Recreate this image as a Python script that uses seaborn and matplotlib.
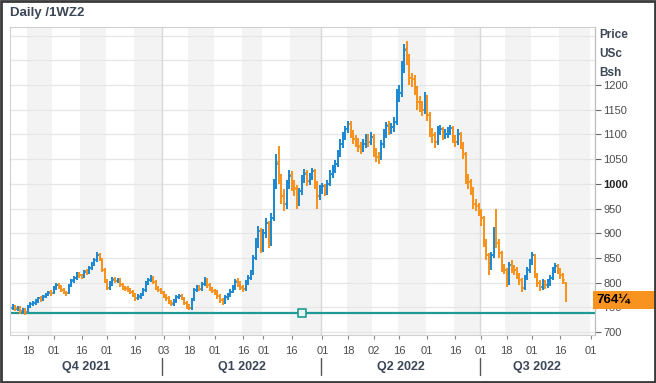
import numpy as np
import pandas as pd
import matplotlib
matplotlib.use("Agg")
import matplotlib.pyplot as plt
import matplotlib.transforms as mtrans
from matplotlib.patches import Rectangle
import seaborn as sns

# ---------------- data ----------------
start_date = "2021-10-08"
calendar_end = "2022-09-02"
holidays = ["2021-11-25", "2021-12-24", "2022-01-17", "2022-02-21", "2022-04-15",
            "2022-05-30", "2022-06-20", "2022-07-04"]

opens = [748, 752, 747, 750, 742, 746, 741, 752, 755, 758, 762, 768, 765, 771, 775, 781, 779, 790, 796, 792,
         786, 781, 778, 795, 804, 810, 818, 815, 812, 823, 820, 830, 838, 845, 856, 848, 826, 805, 790, 798,
         807, 804, 806, 797, 790, 789, 785, 782, 776, 768, 771, 775, 785, 800, 806, 811, 802, 790, 786, 781,
         772, 769, 760, 757, 762, 770, 773, 768, 759, 752, 748, 765, 785, 791, 788, 798, 806, 795, 788, 784,
         781, 772, 765, 760, 770, 775, 782, 790, 803, 798, 791, 788, 800, 810, 820, 850, 880, 905, 870, 900,
         920, 880, 930, 1000, 1045, 1010, 975, 960, 1000, 1018, 1000, 992, 965, 985, 1010, 1022, 1005, 1015, 1025, 1000,
         975, 990, 996, 985, 1000, 1020, 1030, 1040, 1060, 1080, 1095, 1110, 1122, 1100, 1090, 1085, 1076, 1072, 1080, 1092,
         1085, 1095, 1065, 1055, 1052, 1080, 1100, 1120, 1108, 1115, 1125, 1180, 1184, 1235, 1272, 1255, 1215, 1212, 1190, 1165,
         1158, 1150, 1175, 1140, 1105, 1098, 1085, 1108, 1110, 1098, 1100, 1105, 1112, 1090, 1085, 1100, 1080, 1060, 1010, 1004,
         990, 960, 955, 945, 930, 880, 855, 830, 855, 940, 880, 860, 830, 826, 800, 835, 830, 826, 815, 805,
         790, 810, 825, 840, 855, 815, 800, 792, 800, 796, 800, 810, 825, 833, 826, 815, 800]

highs = [756, 755, 753, 752, 749, 748, 755, 760, 762, 766, 771, 772, 775, 779, 784, 785, 794, 799, 799, 795,
         789, 784, 798, 808, 814, 822, 822, 818, 826, 828, 834, 842, 850, 862, 860, 850, 829, 808, 803, 811,
         812, 810, 809, 800, 794, 793, 789, 785, 779, 776, 779, 789, 804, 810, 815, 814, 805, 794, 790, 784,
         776, 772, 764, 766, 774, 777, 777, 771, 762, 756, 768, 789, 795, 796, 802, 812, 809, 799, 792, 788,
         785, 776, 769, 774, 780, 787, 795, 808, 810, 803, 796, 805, 815, 826, 856, 890, 915, 910, 908, 930,
         925, 940, 1010, 1060, 1076, 1020, 990, 1008, 1028, 1025, 1008, 998, 992, 1018, 1030, 1028, 1022, 1032, 1030, 1005,
         998, 1002, 1000, 1008, 1028, 1038, 1048, 1068, 1090, 1105, 1118, 1128, 1128, 1108, 1098, 1092, 1085, 1090, 1100, 1100,
         1105, 1100, 1072, 1065, 1088, 1110, 1126, 1128, 1124, 1135, 1192, 1200, 1248, 1284, 1290, 1262, 1225, 1220, 1198, 1178,
         1168, 1185, 1180, 1145, 1112, 1105, 1118, 1120, 1115, 1110, 1114, 1120, 1118, 1098, 1110, 1105, 1085, 1064, 1020, 1010,
         994, 970, 962, 950, 935, 888, 860, 862, 912, 950, 888, 865, 838, 830, 842, 845, 836, 832, 820, 810,
         815, 832, 848, 862, 858, 820, 806, 808, 806, 808, 815, 832, 840, 838, 830, 820, 802]

lows = [744, 743, 742, 737, 739, 734, 738, 749, 752, 755, 759, 761, 762, 768, 772, 773, 776, 786, 787, 782,
        776, 773, 776, 792, 800, 806, 810, 807, 809, 815, 817, 826, 834, 842, 844, 822, 800, 786, 786, 794,
        799, 799, 792, 786, 783, 781, 777, 771, 763, 764, 767, 772, 782, 796, 802, 798, 786, 782, 776, 768,
        763, 756, 753, 753, 759, 766, 764, 754, 747, 744, 745, 762, 781, 783, 784, 794, 790, 783, 779, 775,
        767, 758, 754, 756, 765, 771, 778, 786, 792, 785, 782, 784, 796, 805, 815, 845, 870, 860, 862, 890,
        870, 875, 925, 990, 1000, 960, 945, 950, 990, 985, 975, 950, 955, 978, 1002, 995, 998, 1008, 990, 950,
        968, 980, 975, 978, 995, 1012, 1022, 1035, 1055, 1072, 1088, 1102, 1092, 1080, 1075, 1065, 1060, 1065, 1072, 1075,
        1078, 1055, 1045, 1040, 1048, 1072, 1092, 1098, 1100, 1105, 1120, 1165, 1175, 1225, 1240, 1200, 1195, 1180, 1150, 1145,
        1138, 1142, 1128, 1095, 1082, 1072, 1078, 1098, 1088, 1090, 1092, 1098, 1082, 1075, 1078, 1070, 1050, 1000, 990, 978,
        950, 945, 935, 915, 872, 845, 815, 825, 850, 870, 850, 822, 818, 792, 796, 820, 815, 808, 796, 782,
        786, 805, 820, 835, 810, 792, 784, 786, 788, 790, 794, 805, 820, 818, 808, 798, 760]

closes = [752, 748, 750, 742, 745, 740, 752, 756, 758, 762, 768, 765, 772, 775, 780, 778, 790, 795, 792, 786,
          780, 778, 795, 805, 810, 818, 815, 812, 822, 820, 830, 838, 845, 855, 848, 826, 805, 790, 798, 806,
          804, 806, 796, 790, 788, 785, 782, 775, 768, 772, 775, 785, 800, 806, 810, 802, 790, 786, 780, 772,
          768, 760, 758, 762, 770, 772, 768, 758, 752, 748, 765, 785, 790, 788, 798, 805, 795, 788, 784, 780,
          772, 765, 760, 770, 775, 782, 790, 802, 798, 790, 788, 800, 810, 820, 850, 880, 905, 870, 900, 920,
          880, 930, 1000, 1040, 1010, 975, 960, 1000, 1015, 1000, 990, 965, 985, 1010, 1020, 1005, 1015, 1025, 1000, 975,
          990, 995, 985, 1000, 1020, 1030, 1040, 1060, 1080, 1095, 1110, 1120, 1100, 1090, 1085, 1075, 1072, 1080, 1090, 1085,
          1095, 1065, 1055, 1052, 1080, 1100, 1118, 1108, 1115, 1125, 1180, 1184, 1235, 1270, 1255, 1215, 1212, 1190, 1165, 1158,
          1150, 1175, 1140, 1105, 1098, 1085, 1108, 1110, 1098, 1100, 1105, 1112, 1090, 1085, 1100, 1080, 1060, 1010, 1004, 990,
          960, 955, 945, 930, 880, 855, 830, 855, 905, 880, 860, 830, 826, 800, 835, 830, 826, 815, 805, 790,
          810, 825, 840, 855, 815, 800, 792, 800, 796, 800, 810, 825, 833, 826, 815, 805, 764.25]

support_level = 738.5
support_marker_date = "2022-03-22"
last_price_label = "764\u00bc"
y_tick_values = [700, 750, 800, 850, 900, 950, 1000, 1050, 1100, 1150, 1200]
grid_values = [700, 750, 800, 850, 900, 950, 1000, 1050, 1100, 1150, 1200, 1250, 1300]
quarter_labels = ["Q4 2021", "Q1 2022", "Q2 2022", "Q3 2022"]
quarter_starts = ["2021-10-01", "2022-01-01", "2022-04-01", "2022-07-01", "2022-10-01"]
header_lines = ["Price", "USc", "Bsh"]
title_text = "Daily /1WZ2"

# ---------------- style ----------------
sns.set_theme(style="white")
plt.rcParams["font.family"] = ["Liberation Sans", "DejaVu Sans"]

BLUE = "#1f8ad2"
ORANGE = "#f7931e"
TEAL = "#1f9a92"
TXT = "#3b4756"
TICK = "#4d4d4d"

W, H = 656, 383
fig = plt.figure(figsize=(W / 100, H / 100), dpi=100)
px_l, px_r, px_t, px_b = 9.5, 595, 27, 335
ax = fig.add_axes([px_l / W, 1 - px_b / H, (px_r - px_l) / W, (px_b - px_t) / H])
ax.set_facecolor("white")

cbd = pd.offsets.CustomBusinessDay(holidays=holidays)
all_days = pd.date_range(start_date, calendar_end, freq=cbd)
n = len(closes)
idx = np.arange(n)

df = pd.DataFrame({"i": idx, "open": opens, "high": highs, "low": lows, "close": closes,
                   "date": all_days[:n]})
df["up"] = df["close"] >= df["open"]
df["color"] = np.where(df["up"], BLUE, ORANGE)

xlim = (-1.2, 227.5)
ylim = (694, 1317.4)
ax.set_xlim(*xlim)
ax.set_ylim(*ylim)


def pos(ts):
    """Index of first trading day on/after ts (None if ts is before the calendar)."""
    ts = pd.Timestamp(ts)
    if ts < all_days[0] - pd.Timedelta(days=0):
        return None
    return int(all_days.searchsorted(ts))


# background half-month bands and ticks
months = pd.date_range("2021-10-01", "2022-10-01", freq="MS")
tick_pos, tick_lab = [], []
for m in months:
    for d in (1, 16):
        p = pos(m + pd.Timedelta(days=d - 1))
        if p is not None and p < len(all_days) and xlim[0] <= p <= xlim[1]:
            tick_pos.append(p)
            tick_lab.append(all_days[p].strftime("%d"))
    p16 = pos(m + pd.Timedelta(days=15))
    pnext = pos(m + pd.offsets.MonthBegin(1))
    if p16 is not None:
        if pnext is None or pnext >= len(all_days):
            pnext = xlim[1] + 2
        ax.axvspan(p16 - 0.5, pnext - 0.5, color="#f3f3f3", lw=0, zorder=0)

for g in grid_values:
    ax.axhline(g, color="#e6e6e6", lw=0.9, zorder=1)

# quarter separators
q_pos = []
for q in quarter_starts:
    p = pos(q)
    q_pos.append(xlim[0] if p is None else (p - 0.5 if p < len(all_days) else xlim[1] + 5))
blend = mtrans.blended_transform_factory(ax.transData, ax.transAxes)
for qp in q_pos:
    if xlim[0] + 1 < qp < xlim[1]:
        ax.axvline(qp, color="#d8d8d8", lw=1.0, zorder=1)
        ax.plot([qp, qp], [-0.075, -0.13], transform=blend, color="#555555", lw=1.0, clip_on=False)
for k, lab in enumerate(quarter_labels):
    a = max(q_pos[k], xlim[0])
    b = min(q_pos[k + 1], xlim[1])
    ax.text((a + b) / 2, -0.103, lab, transform=blend, ha="center", va="center",
            fontsize=9, fontweight="bold", color=TXT)

# support line
ax.axhline(support_level, color=TEAL, lw=1.6, zorder=2)
mk = pd.DataFrame({"i": [pos(support_marker_date)], "v": [support_level]})
sns.scatterplot(data=mk, x="i", y="v", marker="s", s=28, color="#e8f4f2",
                edgecolor=TEAL, linewidth=1.2, ax=ax, zorder=5, legend=False)

# OHLC bars
ax.vlines(df["i"], df["low"], df["high"], colors=df["color"], lw=1.45, zorder=3)
ax.hlines(df["open"], df["i"] - 0.6, df["i"], colors=df["color"], lw=1.1, zorder=3)
ax.hlines(df["close"], df["i"], df["i"] + 0.6, colors=df["color"], lw=1.1, zorder=3)

# axes styling
for s in ["left", "top", "bottom"]:
    ax.spines[s].set_color("#d0d0d0")
    ax.spines[s].set_linewidth(0.8)
ax.spines["right"].set_color("#bdbdbd")
ax.spines["right"].set_linewidth(0.9)

ax.set_xticks(tick_pos)
ax.set_xticklabels(tick_lab)
ax.tick_params(axis="x", bottom=True, length=3, width=0.8, color="#888888", pad=5,
               labelsize=8, labelcolor=TICK)
ax.yaxis.tick_right()
ax.set_yticks(y_tick_values)
ax.set_yticklabels([str(v) for v in y_tick_values])
ax.tick_params(axis="y", right=True, left=False, length=4, width=0.8, color="#666666", pad=2,
               labelsize=8, labelcolor=TICK)
for t in ax.get_yticklabels():
    if t.get_text() == "1000":
        t.set_fontweight("bold")
        t.set_color("#222222")
ax.set_xlabel("")
ax.set_ylabel("")

# title and header
fig.text(10 / W, 1 - 13 / H, title_text, ha="left", va="center", fontsize=9.5,
         fontweight="bold", color=TXT)
for k, h in enumerate(header_lines):
    fig.text(599 / W, 1 - (35 + 19 * k) / H, h, ha="left", va="center", fontsize=8.5,
             fontweight="bold", color=TXT)

# last price box
fig.canvas.draw()
ydisp = ax.transData.transform((0, closes[-1]))[1]
yfig = ydisp / fig.bbox.height
bh = 18 / H
fig.patches.append(Rectangle((593 / W, yfig - bh / 2), (W - 593) / W, bh,
                             transform=fig.transFigure, facecolor=ORANGE, edgecolor="none", zorder=10))
fig.text(596 / W, yfig, last_price_label, ha="left", va="center", fontsize=9.5,
         fontweight="bold", color="black", zorder=11)

# outer frame
fig.patches.append(Rectangle((0.0015, 0.003), 0.997, 0.995, transform=fig.transFigure,
                             fill=False, edgecolor="#3a3a3a", lw=2.0, zorder=20))

fig.savefig("out.png", dpi=100)
